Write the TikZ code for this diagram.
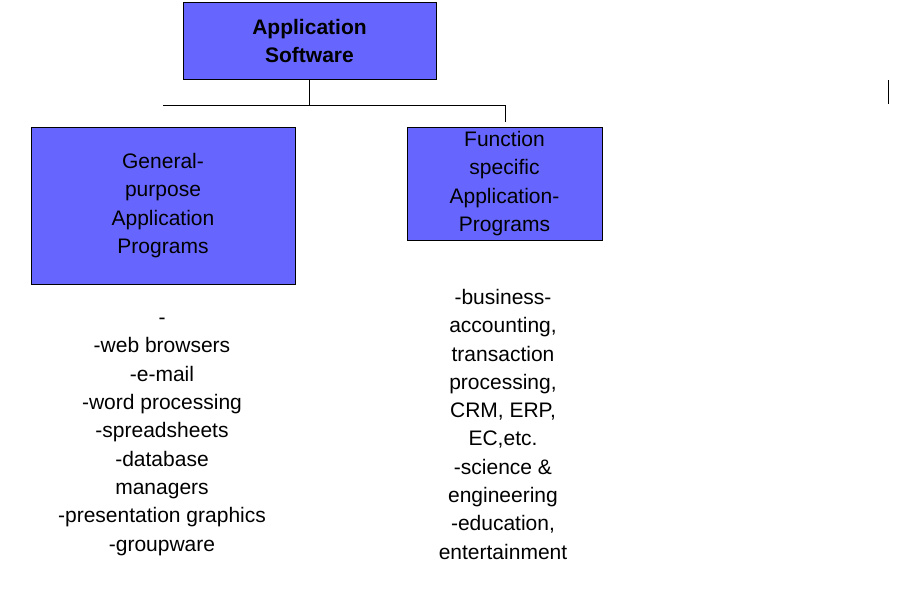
\documentclass[tikz,border=0pt]{standalone}
\usepackage{fontspec}
\setmainfont{Liberation Sans}
\begin{document}
\begin{tikzpicture}[x=1pt,y=-1pt,
  box/.style={draw=black,fill={rgb,255:red,102;green,102;blue,255},align=center,inner sep=0pt,font=\fontsize{21}{28.3}\selectfont},
  lst/.style={align=center,inner sep=0pt,font=\fontsize{21}{28.3}\selectfont},
  ln/.style={draw=black,line width=0.8pt}]
\useasboundingbox (0,0) rectangle (900,592);
\node[box,minimum width=253pt,minimum height=77pt,font=\fontsize{21}{28}\selectfont\bfseries] (top) at (309.5,40.5) {Application\\Software};
\node[box,minimum width=264pt,minimum height=157pt] (gen) at (163,205.5) {General-\\purpose\\Application\\Programs};
\node[box,minimum width=195pt,minimum height=113pt] (fun) at (504.5,183.5) {Function\\specific\\Application-\\Programs};
\coordinate (lend) at (163,105);
\coordinate (rend) at (505,122);
\coordinate (m1) at (888,80);
\coordinate (m2) at (888,104);
\draw[ln] (top.south) -- (top.south |- lend) -- (lend);
\draw[ln] (top.south |- lend) -| (rend);
\draw[ln] (m1) -- (m2);
\node[lst,anchor=north] (gl) at (162,318) {-\\-web browsers\\-e-mail\\-word processing\\-spreadsheets\\-database\\ managers\\-presentation graphics\\-groupware};
\node[lst,anchor=north] (fl) at (503,289) {-business-\\accounting,\\transaction\\processing,\\CRM, ERP,\\EC,etc.\\-science \&\\engineering\\-education,\\entertainment};
\end{tikzpicture}
\end{document}
